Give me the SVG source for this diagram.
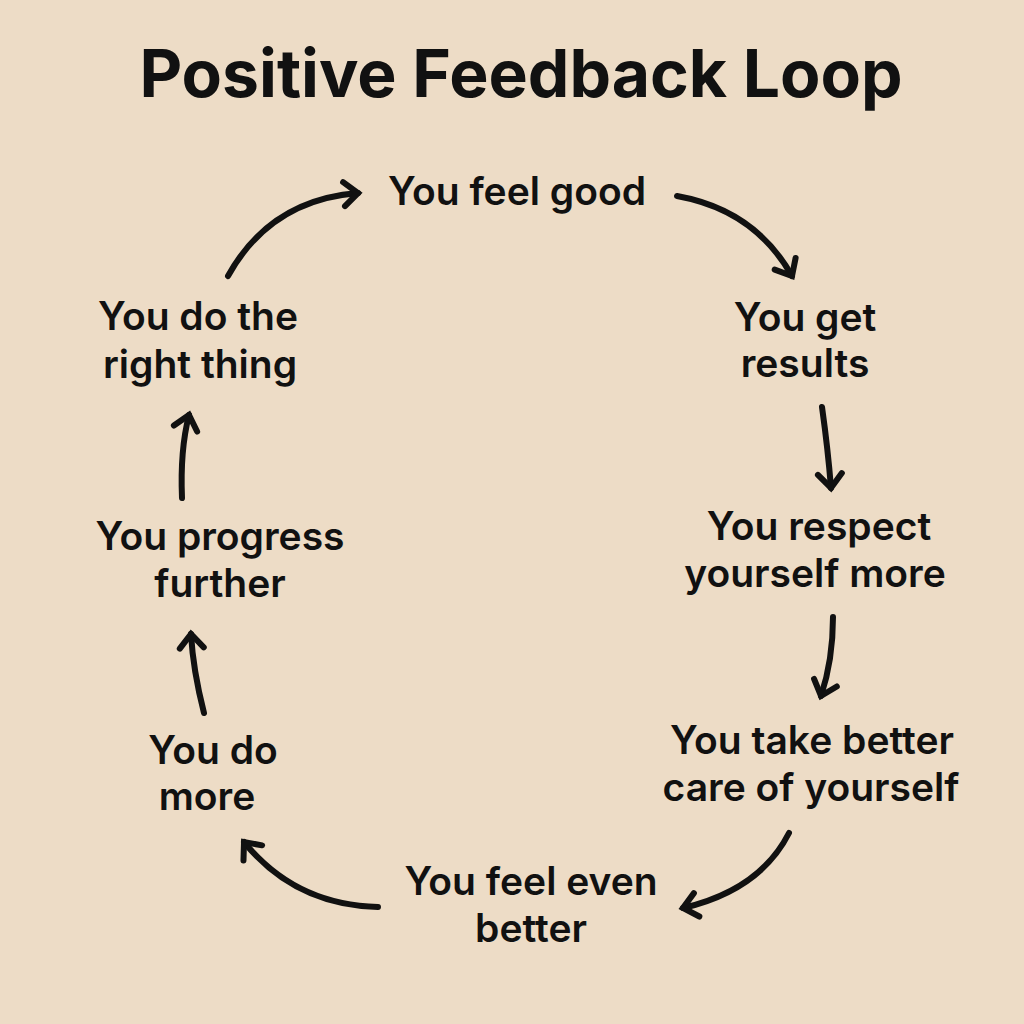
<svg xmlns="http://www.w3.org/2000/svg" width="1024" height="1024" viewBox="0 0 1024 1024">
<style>
.t{font-family:Inter,"Noto Sans","Liberation Sans",sans-serif;font-weight:700;fill:#111;text-anchor:middle}
.lbl{font-size:39px;font-weight:600}
.title{font-size:66px}
.a{fill:none;stroke:#111;stroke-width:6;stroke-linecap:round;marker-end:url(#h)}
</style>
<defs>
<marker id="h" markerUnits="userSpaceOnUse" orient="auto" markerWidth="40" markerHeight="40" refX="20" refY="20" viewBox="0 0 40 40">
<path d="M6 8 L20 20 L6 32" fill="none" stroke="#111" stroke-width="6" stroke-linecap="round" stroke-linejoin="miter"/>
</marker>
</defs>
<rect width="1024" height="1024" fill="#EDDCC6"/>
<text class="t title" x="521" y="97">Positive Feedback Loop</text>
<g id="connectors">
<path class="a" d="M228 276 Q270 200 358 193"/>
<path class="a" d="M677 196 Q755 210 792 276"/>
<path class="a" d="M822 407 Q828 450 831 488"/>
<path class="a" d="M833 617 Q833 660 821 696"/>
<path class="a" d="M789 833 Q760 890 683 908"/>
<path class="a" d="M378 907 Q295 905 244 842"/>
<path class="a" d="M204 713 Q193 670 191 634"/>
<path class="a" d="M182 498 Q180 450 189 415"/>
</g>
<g id="n1"><text class="t lbl" x="517" y="205">You feel good</text></g>
<g id="n2"><text class="t lbl" x="805" y="331">You get</text><text class="t lbl" x="805" y="377">results</text></g>
<g id="n3"><text class="t lbl" x="819" y="540">You respect</text><text class="t lbl" x="815" y="587">yourself more</text></g>
<g id="n4"><text class="t lbl" x="812" y="754">You take better</text><text class="t lbl" x="811" y="801">care of yourself</text></g>
<g id="n5"><text class="t lbl" x="531" y="895">You feel even</text><text class="t lbl" x="531" y="942">better</text></g>
<g id="n6"><text class="t lbl" x="213" y="764">You do</text><text class="t lbl" x="207" y="810">more</text></g>
<g id="n7"><text class="t lbl" x="220" y="550">You progress</text><text class="t lbl" x="220" y="597">further</text></g>
<g id="n8"><text class="t lbl" x="198" y="330">You do the</text><text class="t lbl" x="200" y="378">right thing</text></g>
</svg>
